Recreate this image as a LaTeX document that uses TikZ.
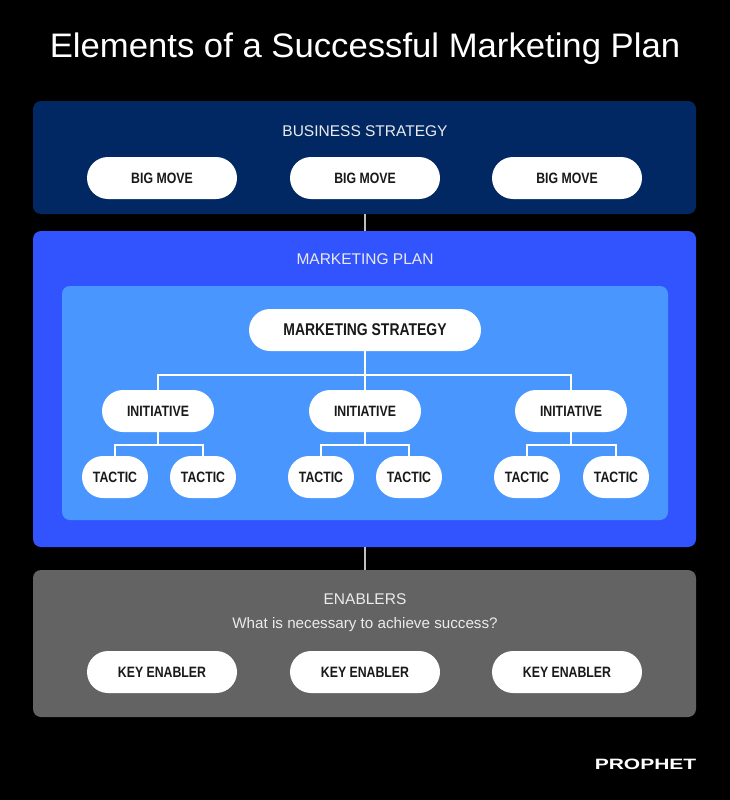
\documentclass[tikz,border=0pt]{standalone}
\usepackage{fontspec}
\setmainfont{Liberation Sans}
\usetikzlibrary{calc}
\definecolor{navy}{RGB}{2,40,100}
\definecolor{mpblue}{RGB}{50,84,255}
\definecolor{inblue}{RGB}{74,150,255}
\definecolor{engray}{RGB}{99,99,99}
\definecolor{linkgray}{RGB}{190,190,190}
\definecolor{headtext}{RGB}{235,235,235}
\newcommand{\condtxt}[1]{\scalebox{0.82}[1]{#1}}
\begin{document}
\begin{tikzpicture}[x=1pt,y=-1pt,
  panel/.style={draw=none,rounded corners=8,inner sep=0},
  pill/.style={fill=white,rounded corners=21,minimum height=42,inner sep=0,
    font=\fontsize{15}{18}\selectfont\bfseries,text=black!90},
  head/.style={font=\fontsize{15.5}{18}\selectfont,text=headtext},
  link/.style={draw=linkgray,line width=2},
  tree/.style={draw=white,line width=2}]
\useasboundingbox[fill=black] (0,0) rectangle (730,800);
\node[text=white,font=\fontsize{34}{40}\selectfont] (title) at (365,49) {\scalebox{1.02}[1]{Elements of a Successful Marketing Plan}};
% business strategy
\node[panel,fill=navy,minimum width=663,minimum height=113] (bs) at (364.5,157.5) {};
\node[head] (bsh) at (365,131) {BUSINESS STRATEGY};
\node[pill,minimum width=150] (b1) at (162,178) {\condtxt{BIG MOVE}};
\node[pill,minimum width=150] (b2) at (365,178) {\condtxt{BIG MOVE}};
\node[pill,minimum width=150] (b3) at (567,178) {\condtxt{BIG MOVE}};
% marketing plan
\node[panel,fill=mpblue,minimum width=663,minimum height=316] (mp) at (364.5,389) {};
\node[head] (mph) at (365,259) {MARKETING PLAN};
\node[panel,fill=inblue,minimum width=606,minimum height=234] (inner) at (365,403) {};
\node[pill,minimum width=232,font=\fontsize{17}{20}\selectfont\bfseries] (ms) at (365,330) {\condtxt{MARKETING STRATEGY}};
\node[pill,minimum width=112] (i1) at (158,411) {\condtxt{INITIATIVE}};
\node[pill,minimum width=112] (i2) at (365,411) {\condtxt{INITIATIVE}};
\node[pill,minimum width=112] (i3) at (571,411) {\condtxt{INITIATIVE}};
\node[pill,minimum width=66] (t1) at (115,477) {\condtxt{TACTIC}};
\node[pill,minimum width=66] (t2) at (203,477) {\condtxt{TACTIC}};
\node[pill,minimum width=66] (t3) at (321,477) {\condtxt{TACTIC}};
\node[pill,minimum width=66] (t4) at (409,477) {\condtxt{TACTIC}};
\node[pill,minimum width=66] (t5) at (527,477) {\condtxt{TACTIC}};
\node[pill,minimum width=66] (t6) at (616,477) {\condtxt{TACTIC}};
\coordinate (j0) at (365,375);
\draw[tree] (ms.south) -- (i2.north);
\draw[tree] (i1.north) |- (j0) -| (i3.north);
\draw[tree] (i1.south) -- ++(0,13) coordinate (k1);
\draw[tree] (t1.north) |- (k1) -| (t2.north);
\draw[tree] (i2.south) -- ++(0,13) coordinate (k2);
\draw[tree] (t3.north) |- (k2) -| (t4.north);
\draw[tree] (i3.south) -- ++(0,13) coordinate (k3);
\draw[tree] (t5.north) |- (k3) -| (t6.north);
% enablers
\node[panel,fill=engray,minimum width=663,minimum height=147] (en) at (364.5,643.5) {};
\node[head] (enh) at (365,599) {ENABLERS};
\node[text=headtext,font=\fontsize{15.2}{18}\selectfont,anchor=base] (enq) at (365,628.5) {What is necessary to achieve success?};
\node[pill,minimum width=150] (e1) at (162,672) {\condtxt{KEY ENABLER}};
\node[pill,minimum width=150] (e2) at (365,672) {\condtxt{KEY ENABLER}};
\node[pill,minimum width=150] (e3) at (567,672) {\condtxt{KEY ENABLER}};
% links between panels
\draw[link] (bs.south) -- (mp.north);
\draw[link] (mp.south) -- (en.north);
% logo
\node[text=white,font=\fontsize{15}{18}\selectfont\bfseries] (logo) at (645.5,764.5) {\scalebox{1.4}[1]{PROPHET}};
\end{tikzpicture}
\end{document}
